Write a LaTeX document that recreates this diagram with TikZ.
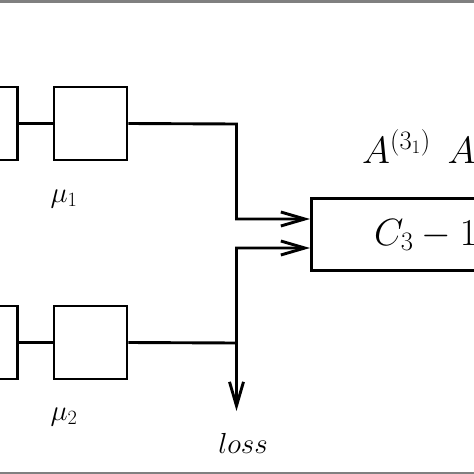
\RequirePackage{fix-cm}
\documentclass[tikz,border=0pt]{standalone}
\usetikzlibrary{arrows.meta}
\begin{document}
\begin{tikzpicture}[x=1pt,y=-1pt,
  blk/.style={draw,line width=2.9pt,minimum width=73pt,minimum height=73pt,inner sep=0pt},
  wire/.style={line width=2.9pt},
  arr/.style={wire,-{Straight Barb[length=24pt,width=14pt,line width=2.9pt]}},
  lbl/.style={font=\fontsize{29}{35}\selectfont,inner sep=0pt},
  big/.style={font=\fontsize{38}{45}\selectfont,inner sep=0pt}]
\useasboundingbox (0,0) rectangle (474,474);
\fill[gray] (0,0) rectangle (474,2.5);
\fill[gray] (0,471.5) rectangle (474,474);
\begin{scope}
\clip (0,2.5) rectangle (474,471.5);
% upper branch
\node[blk] (a0) at (-19,123.5) {};
\node[blk] (a1) at (90.5,123.5) {};
\node[lbl,anchor=base] (m1) at (64,202) {$\mu_1$};
% lower branch
\node[blk] (b0) at (-19,342.5) {};
\node[blk] (b1) at (90.5,342.5) {};
\node[lbl,anchor=base] (m2) at (64,420) {$\mu_2$};
% big box
\node[draw,line width=2.9pt,minimum width=200pt,minimum height=72pt,inner sep=0pt,anchor=north west] (c) at (310,197) {};
\node[big,anchor=base west] (ct) at (374,245) {$C_3-1$};
\node[big,anchor=base west] (at) at (362,163) {$A^{(3_1)}\;\,A$};
% coordinates
\coordinate (t1) at (310,219);
\coordinate (t2) at (310,248);
\coordinate (j1) at (236.5,124);
\coordinate (j2) at (236.5,343);
\coordinate (dn) at (236.5,411);
\node[lbl,anchor=base] (loss) at (243,453) {$loss$};
% wires
\draw[wire] (a0.east) -- (a1.west);
\draw[wire] (b0.east) -- (b1.west);
\draw[arr] (a1.east) -- (j1) |- (t1);
\draw[arr] (b1.east) -- (j2) |- (t2);
\draw[arr] (j2) -- (dn);
\end{scope}
\end{tikzpicture}
\end{document}
